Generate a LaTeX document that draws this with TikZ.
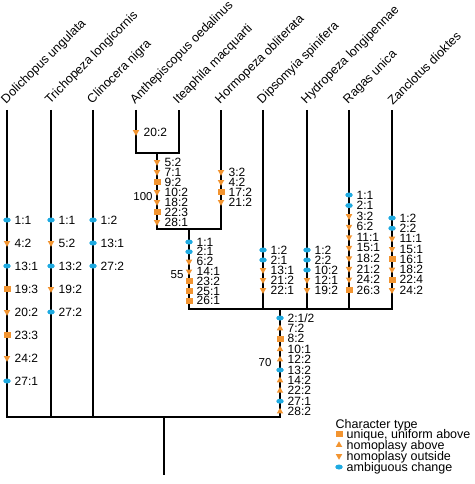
\documentclass[tikz,border=0pt]{standalone}
\usepackage{fontspec}
\setmainfont{Liberation Sans}
\usetikzlibrary{calc, shapes}
\usepackage{xcolor}
\definecolor{charorange}{RGB}{242,148,48}
\definecolor{charblue}{RGB}{30,170,225}
\begin{document}
\begin{tikzpicture}[x=1pt,y=-1pt,
	branch/.style={line width=2.6pt, line join=miter},
	taxon/.style={rotate=45, anchor=south west, inner sep=0.5pt, font=\fontsize{12.5}{12.5}\selectfont},
	charlab/.style={anchor=west, inner sep=0.5pt, text depth=0pt, font=\fontsize{12}{12}\selectfont},
	support/.style={inner sep=0pt, font=\fontsize{11.5}{11.5}\selectfont},
	legendlab/.style={anchor=west, inner sep=0.5pt, text depth=0pt, font=\fontsize{12.5}{12.5}\selectfont},
	uniq/.style={rectangle, fill=charorange, inner sep=0pt, minimum width=7pt, minimum height=5.5pt},
	homab/.style={regular polygon, regular polygon sides=3, fill=charorange, inner sep=0pt, minimum size=7.5pt},
	homout/.style={homab, shape border rotate=180},
	amb/.style={ellipse, fill=charblue, inner sep=0pt, minimum width=7.5pt, minimum height=5pt}]
				\newcommand{\mycharcol}[5]{
					\foreach \lab/\typ [count=\k] in {#5} {
						\node[\typ] (#1m\k) at (#2,{#3+#4*(\k-1)}) {};
						\node[charlab] (#1t\k) at (#2+7,{#3+#4*(\k-1)}) {\lab};
					}
				}%Frame
				\useasboundingbox (0,0) rectangle (474,484);
				%Leaves and their names
				\foreach \name/\x/\taxname in {dol/7/Dolichopus ungulata, tri/51/Trichopeza longicornis, cli/93/Clinocera nigra, ant/136/Anthepiscopus oedalinus, ite/179/Iteaphila macquarti, hor/221/Hormopeza obliterata, dip/263/Dipsomyia spinifera, hyd/307/Hydropeza longipennae, rag/349/Ragas unica, zan/392/Zanclotus dioktes} {
					\coordinate (\name Top) at (\x,110);
					\node[taxon] (\name Name) at (\x+1,107) {\taxname};
				}
				%Inner nodes
				\coordinate (n100) at (157,153);
				\coordinate (n55) at (189,229);
				\coordinate (n70) at (280,309);
				\coordinate (root) at (164,417);
				\coordinate (rootBase) at (164,475);
				%Ends of the branches
				\coordinate (iteFoot) at (179,153);
				\coordinate (horFoot) at (221,229);
				\coordinate (zanFoot) at (392,309);
				\coordinate (n70Foot) at (280,417);
				\coordinate (triFoot) at (51,417);
				\coordinate (cliFoot) at (93,417);
				\coordinate (dipFoot) at (263,309);
				\coordinate (hydFoot) at (307,309);
				\coordinate (ragFoot) at (349,309);
				%Branches
				\draw[branch] (antTop) |- (iteFoot) -- (iteTop);
				\draw[branch] (n100) |- (horFoot) -- (horTop);
				\draw[branch] (n55) |- (zanFoot) -- (zanTop);
				\draw[branch] (dolTop) |- (n70Foot) -- (n70);
				\foreach \name in {tri, cli, dip, hyd, rag} {
					\draw[branch] (\name Top) -- (\name Foot);
				}
				\draw[branch] (root) -- (rootBase);
				%Character changes on the branches
				\mycharcol{dol}{7}{220}{23}{1:1/amb, 4:2/homout, 13:1/amb, 19:3/uniq, 20:2/homout, 23:3/uniq, 24:2/homout, 27:1/amb}
				\mycharcol{tri}{51}{220}{23}{1:1/amb, 5:2/homout, 13:2/amb, 19:2/homout, 27:2/amb}
				\mycharcol{cli}{93}{220}{23}{1:2/amb, 13:1/amb, 27:2/amb}
				\mycharcol{ant}{136}{132}{10}{20:2/homout}
				\mycharcol{cA}{157}{162}{10}{5:2/homout, 7:1/homout, 9:2/uniq, 10:2/homout, 18:2/homout, 22:3/uniq, 28:1/homout}
				\mycharcol{hor}{221}{172}{10}{3:2/homout, 4:2/homout, 17:2/uniq, 21:2/homout}
				\mycharcol{cB}{189}{242}{9.8}{1:1/amb, 2:1/amb, 6:2/homout, 14:1/homout, 23:2/uniq, 25:1/uniq, 26:1/uniq}
				\mycharcol{dip}{263}{250}{10}{1:2/amb, 2:1/amb, 13:1/homout, 21:2/homout, 22:1/homout}
				\mycharcol{hyd}{307}{250}{10}{1:2/amb, 2:2/amb, 10:2/amb, 12:1/homout, 19:2/homout}
				\mycharcol{rag}{349}{195}{10.55}{1:1/amb, 2:1/amb, 3:2/homout, 6:2/homout, 11:1/homout, 15:1/homout, 18:2/homout, 21:2/homout, 24:2/homout, 26:3/uniq}
				\mycharcol{zan}{392}{218}{10.3}{1:2/amb, 2:2/amb, 11:1/homout, 15:1/homout, 16:1/uniq, 18:2/homout, 22:4/uniq, 24:2/homout}
				\mycharcol{cC}{280}{318}{10.4}{{2:1/2}/amb, 7:2/homab, 8:2/uniq, 10:1/homab, 12:2/homab, 13:2/amb, 14:2/homab, 22:2/homab, 27:1/amb, 28:2/homab}
				%Support values
				\node[support] (s100) at (143,197) {100};
				\node[support] (s55) at (177,275) {55};
				\node[support] (s70) at (265,363) {70};
				%Legend
				\node[legendlab] (legTitle) at (335,424) {Character type};
				\foreach \typ/\txt/\y [count=\k] in {uniq/{unique, uniform above}/434, homab/homoplasy above/445, homout/homoplasy outside/456, amb/ambiguous change/467} {
					\node[\typ] (legm\k) at (339,\y) {};
					\node[legendlab] (legt\k) at (346,\y) {\txt};
				}
				\end{tikzpicture}
\end{document}
